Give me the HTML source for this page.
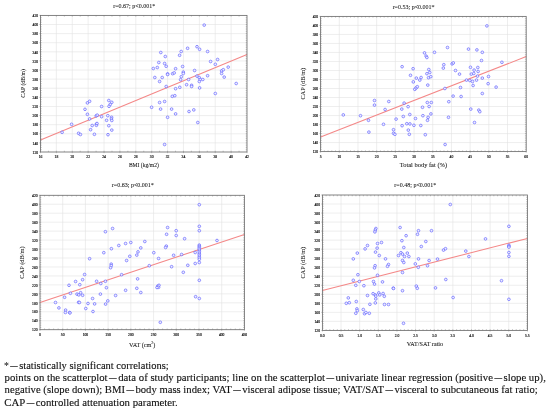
<!DOCTYPE html>
<html><head><meta charset="utf-8"><style>
html,body{margin:0;padding:0;background:#fff;width:550px;height:412px;overflow:hidden}
svg{display:block}
.g{stroke:#e2e2e2;stroke-width:0.6;fill:none}
.t{stroke:#888;stroke-width:0.45;fill:none}
.r{stroke:#f48888;stroke-width:1.05;fill:none}
.c circle{fill:#eef;stroke:#4c4cff;stroke-width:0.58}
.f{fill:none;stroke:#6e6e6e;stroke-width:0.85}
text{font-family:"Liberation Serif",serif;fill:#111}
.pl text{stroke:#222;stroke-width:0.06}
.pl .tl text{stroke:#222;stroke-width:0.16}
.tl text{font-size:3.7px;fill:#111}
.ti{font-size:6px}
.cp{font-size:10.2px;fill:#111;stroke:#111;stroke-width:0.12}
.dsh{font-size:7.2px;stroke-width:0.22}
.ast{font-size:9.5px;stroke-width:0.05}
</style></head><body>
<svg width="550" height="412" viewBox="0 0 550 412">
<rect width="550" height="412" fill="#fff"/>
<g class="pl"><path class="g" d="M56.38 15.40V152.00M72.27 15.40V152.00M88.15 15.40V152.00M104.04 15.40V152.00M119.92 15.40V152.00M135.81 15.40V152.00M151.69 15.40V152.00M167.58 15.40V152.00M183.46 15.40V152.00M199.35 15.40V152.00M215.23 15.40V152.00M231.12 15.40V152.00M40.50 142.89H247.00M40.50 133.79H247.00M40.50 124.68H247.00M40.50 115.57H247.00M40.50 106.47H247.00M40.50 97.36H247.00M40.50 88.25H247.00M40.50 79.15H247.00M40.50 70.04H247.00M40.50 60.93H247.00M40.50 51.83H247.00M40.50 42.72H247.00M40.50 33.61H247.00M40.50 24.51H247.00"/>
<path class="t" d="M48.44 15.40v1.3M48.44 152.00v-1.3M56.38 15.40v1.3M56.38 152.00v-1.3M64.33 15.40v1.3M64.33 152.00v-1.3M72.27 15.40v1.3M72.27 152.00v-1.3M80.21 15.40v1.3M80.21 152.00v-1.3M88.15 15.40v1.3M88.15 152.00v-1.3M96.10 15.40v1.3M96.10 152.00v-1.3M104.04 15.40v1.3M104.04 152.00v-1.3M111.98 15.40v1.3M111.98 152.00v-1.3M119.92 15.40v1.3M119.92 152.00v-1.3M127.87 15.40v1.3M127.87 152.00v-1.3M135.81 15.40v1.3M135.81 152.00v-1.3M143.75 15.40v1.3M143.75 152.00v-1.3M151.69 15.40v1.3M151.69 152.00v-1.3M159.63 15.40v1.3M159.63 152.00v-1.3M167.58 15.40v1.3M167.58 152.00v-1.3M175.52 15.40v1.3M175.52 152.00v-1.3M183.46 15.40v1.3M183.46 152.00v-1.3M191.40 15.40v1.3M191.40 152.00v-1.3M199.35 15.40v1.3M199.35 152.00v-1.3M207.29 15.40v1.3M207.29 152.00v-1.3M215.23 15.40v1.3M215.23 152.00v-1.3M223.17 15.40v1.3M223.17 152.00v-1.3M231.12 15.40v1.3M231.12 152.00v-1.3M239.06 15.40v1.3M239.06 152.00v-1.3M40.50 149.72h1.3M247.00 149.72h-1.3M40.50 147.45h1.3M247.00 147.45h-1.3M40.50 145.17h1.3M247.00 145.17h-1.3M40.50 142.89h1.3M247.00 142.89h-1.3M40.50 140.62h1.3M247.00 140.62h-1.3M40.50 138.34h1.3M247.00 138.34h-1.3M40.50 136.06h1.3M247.00 136.06h-1.3M40.50 133.79h1.3M247.00 133.79h-1.3M40.50 131.51h1.3M247.00 131.51h-1.3M40.50 129.23h1.3M247.00 129.23h-1.3M40.50 126.96h1.3M247.00 126.96h-1.3M40.50 124.68h1.3M247.00 124.68h-1.3M40.50 122.40h1.3M247.00 122.40h-1.3M40.50 120.13h1.3M247.00 120.13h-1.3M40.50 117.85h1.3M247.00 117.85h-1.3M40.50 115.57h1.3M247.00 115.57h-1.3M40.50 113.30h1.3M247.00 113.30h-1.3M40.50 111.02h1.3M247.00 111.02h-1.3M40.50 108.74h1.3M247.00 108.74h-1.3M40.50 106.47h1.3M247.00 106.47h-1.3M40.50 104.19h1.3M247.00 104.19h-1.3M40.50 101.91h1.3M247.00 101.91h-1.3M40.50 99.64h1.3M247.00 99.64h-1.3M40.50 97.36h1.3M247.00 97.36h-1.3M40.50 95.08h1.3M247.00 95.08h-1.3M40.50 92.81h1.3M247.00 92.81h-1.3M40.50 90.53h1.3M247.00 90.53h-1.3M40.50 88.25h1.3M247.00 88.25h-1.3M40.50 85.98h1.3M247.00 85.98h-1.3M40.50 83.70h1.3M247.00 83.70h-1.3M40.50 81.42h1.3M247.00 81.42h-1.3M40.50 79.15h1.3M247.00 79.15h-1.3M40.50 76.87h1.3M247.00 76.87h-1.3M40.50 74.59h1.3M247.00 74.59h-1.3M40.50 72.32h1.3M247.00 72.32h-1.3M40.50 70.04h1.3M247.00 70.04h-1.3M40.50 67.76h1.3M247.00 67.76h-1.3M40.50 65.49h1.3M247.00 65.49h-1.3M40.50 63.21h1.3M247.00 63.21h-1.3M40.50 60.93h1.3M247.00 60.93h-1.3M40.50 58.66h1.3M247.00 58.66h-1.3M40.50 56.38h1.3M247.00 56.38h-1.3M40.50 54.10h1.3M247.00 54.10h-1.3M40.50 51.83h1.3M247.00 51.83h-1.3M40.50 49.55h1.3M247.00 49.55h-1.3M40.50 47.27h1.3M247.00 47.27h-1.3M40.50 45.00h1.3M247.00 45.00h-1.3M40.50 42.72h1.3M247.00 42.72h-1.3M40.50 40.44h1.3M247.00 40.44h-1.3M40.50 38.17h1.3M247.00 38.17h-1.3M40.50 35.89h1.3M247.00 35.89h-1.3M40.50 33.61h1.3M247.00 33.61h-1.3M40.50 31.34h1.3M247.00 31.34h-1.3M40.50 29.06h1.3M247.00 29.06h-1.3M40.50 26.78h1.3M247.00 26.78h-1.3M40.50 24.51h1.3M247.00 24.51h-1.3M40.50 22.23h1.3M247.00 22.23h-1.3M40.50 19.95h1.3M247.00 19.95h-1.3M40.50 17.68h1.3M247.00 17.68h-1.3M40.50 152.00v1.2M56.38 152.00v1.2M72.27 152.00v1.2M88.15 152.00v1.2M104.04 152.00v1.2M119.92 152.00v1.2M135.81 152.00v1.2M151.69 152.00v1.2M167.58 152.00v1.2M183.46 152.00v1.2M199.35 152.00v1.2M215.23 152.00v1.2M231.12 152.00v1.2M247.00 152.00v1.2M40.50 152.00h-1.2M40.50 142.89h-1.2M40.50 133.79h-1.2M40.50 124.68h-1.2M40.50 115.57h-1.2M40.50 106.47h-1.2M40.50 97.36h-1.2M40.50 88.25h-1.2M40.50 79.15h-1.2M40.50 70.04h-1.2M40.50 60.93h-1.2M40.50 51.83h-1.2M40.50 42.72h-1.2M40.50 33.61h-1.2M40.50 24.51h-1.2M40.50 15.40h-1.2"/>
<path class="r" d="M40.50 140.00L247.00 54.40"/>
<g class="c"><circle cx="62.1" cy="132.3" r="1.35"/><circle cx="71.6" cy="124.3" r="1.35"/><circle cx="78.6" cy="133.3" r="1.35"/><circle cx="80.4" cy="134.5" r="1.35"/><circle cx="87.4" cy="102.9" r="1.35"/><circle cx="89.6" cy="101.3" r="1.35"/><circle cx="85.0" cy="109.3" r="1.35"/><circle cx="87.4" cy="114.3" r="1.35"/><circle cx="89.6" cy="118.9" r="1.35"/><circle cx="92.2" cy="125.5" r="1.35"/><circle cx="90.6" cy="129.7" r="1.35"/><circle cx="94.4" cy="134.3" r="1.35"/><circle cx="96.2" cy="115.9" r="1.35"/><circle cx="97.2" cy="115.1" r="1.35"/><circle cx="96.4" cy="124.1" r="1.35"/><circle cx="96.4" cy="125.3" r="1.35"/><circle cx="97.0" cy="123.5" r="1.35"/><circle cx="101.6" cy="106.5" r="1.35"/><circle cx="101.6" cy="116.7" r="1.35"/><circle cx="108.8" cy="100.5" r="1.35"/><circle cx="111.8" cy="102.3" r="1.35"/><circle cx="110.2" cy="104.5" r="1.35"/><circle cx="109.0" cy="106.3" r="1.35"/><circle cx="107.8" cy="115.7" r="1.35"/><circle cx="111.6" cy="117.3" r="1.35"/><circle cx="111.4" cy="118.9" r="1.35"/><circle cx="111.8" cy="120.5" r="1.35"/><circle cx="106.6" cy="120.3" r="1.35"/><circle cx="108.8" cy="125.7" r="1.35"/><circle cx="111.8" cy="130.1" r="1.35"/><circle cx="108.0" cy="134.7" r="1.35"/><circle cx="154.8" cy="77.5" r="1.35"/><circle cx="159.6" cy="81.5" r="1.35"/><circle cx="162.2" cy="77.5" r="1.35"/><circle cx="167.6" cy="73.9" r="1.35"/><circle cx="167.6" cy="74.5" r="1.35"/><circle cx="172.6" cy="73.7" r="1.35"/><circle cx="174.2" cy="72.9" r="1.35"/><circle cx="183.3" cy="72.1" r="1.35"/><circle cx="183.3" cy="73.5" r="1.35"/><circle cx="181.3" cy="76.7" r="1.35"/><circle cx="180.6" cy="79.7" r="1.35"/><circle cx="188.6" cy="79.5" r="1.35"/><circle cx="194.6" cy="70.5" r="1.35"/><circle cx="197.0" cy="76.1" r="1.35"/><circle cx="199.3" cy="77.7" r="1.35"/><circle cx="200.2" cy="79.5" r="1.35"/><circle cx="202.8" cy="79.5" r="1.35"/><circle cx="199.3" cy="81.5" r="1.35"/><circle cx="207.6" cy="75.7" r="1.35"/><circle cx="221.6" cy="70.9" r="1.35"/><circle cx="221.6" cy="73.5" r="1.35"/><circle cx="224.2" cy="77.1" r="1.35"/><circle cx="236.2" cy="83.5" r="1.35"/><circle cx="166.2" cy="86.5" r="1.35"/><circle cx="175.6" cy="88.7" r="1.35"/><circle cx="179.8" cy="87.3" r="1.35"/><circle cx="186.6" cy="84.7" r="1.35"/><circle cx="191.6" cy="85.3" r="1.35"/><circle cx="191.6" cy="86.5" r="1.35"/><circle cx="199.6" cy="87.9" r="1.35"/><circle cx="215.3" cy="93.5" r="1.35"/><circle cx="172.3" cy="96.3" r="1.35"/><circle cx="174.8" cy="95.7" r="1.35"/><circle cx="159.6" cy="102.5" r="1.35"/><circle cx="164.6" cy="101.5" r="1.35"/><circle cx="151.6" cy="107.3" r="1.35"/><circle cx="160.6" cy="109.1" r="1.35"/><circle cx="171.6" cy="109.1" r="1.35"/><circle cx="189.0" cy="111.5" r="1.35"/><circle cx="193.8" cy="109.9" r="1.35"/><circle cx="167.6" cy="117.3" r="1.35"/><circle cx="175.6" cy="113.9" r="1.35"/><circle cx="197.8" cy="122.5" r="1.35"/><circle cx="164.6" cy="144.5" r="1.35"/><circle cx="204.2" cy="25.1" r="1.35"/><circle cx="160.8" cy="52.5" r="1.35"/><circle cx="165.3" cy="56.5" r="1.35"/><circle cx="181.2" cy="51.5" r="1.35"/><circle cx="179.6" cy="55.3" r="1.35"/><circle cx="187.6" cy="48.3" r="1.35"/><circle cx="197.0" cy="46.7" r="1.35"/><circle cx="199.6" cy="49.3" r="1.35"/><circle cx="207.6" cy="51.5" r="1.35"/><circle cx="158.8" cy="62.5" r="1.35"/><circle cx="164.6" cy="63.5" r="1.35"/><circle cx="166.2" cy="66.3" r="1.35"/><circle cx="153.3" cy="68.5" r="1.35"/><circle cx="157.3" cy="67.5" r="1.35"/><circle cx="175.6" cy="68.7" r="1.35"/><circle cx="182.6" cy="66.5" r="1.35"/><circle cx="210.6" cy="61.5" r="1.35"/><circle cx="217.6" cy="59.5" r="1.35"/><circle cx="215.3" cy="64.3" r="1.35"/><circle cx="228.2" cy="67.1" r="1.35"/><circle cx="223.3" cy="69.7" r="1.35"/></g>
<rect class="f" x="40.50" y="15.40" width="206.50" height="136.60"/>
<g class="tl"><text x="40.50" y="158.00" text-anchor="middle">16</text><text x="56.38" y="158.00" text-anchor="middle">18</text><text x="72.27" y="158.00" text-anchor="middle">20</text><text x="88.15" y="158.00" text-anchor="middle">22</text><text x="104.04" y="158.00" text-anchor="middle">24</text><text x="119.92" y="158.00" text-anchor="middle">26</text><text x="135.81" y="158.00" text-anchor="middle">28</text><text x="151.69" y="158.00" text-anchor="middle">30</text><text x="167.58" y="158.00" text-anchor="middle">32</text><text x="183.46" y="158.00" text-anchor="middle">34</text><text x="199.35" y="158.00" text-anchor="middle">36</text><text x="215.23" y="158.00" text-anchor="middle">38</text><text x="231.12" y="158.00" text-anchor="middle">40</text><text x="247.00" y="158.00" text-anchor="middle">42</text><text x="38.10" y="153.70" text-anchor="end">120</text><text x="38.10" y="144.59" text-anchor="end">140</text><text x="38.10" y="135.49" text-anchor="end">160</text><text x="38.10" y="126.38" text-anchor="end">180</text><text x="38.10" y="117.27" text-anchor="end">200</text><text x="38.10" y="108.17" text-anchor="end">220</text><text x="38.10" y="99.06" text-anchor="end">240</text><text x="38.10" y="89.95" text-anchor="end">260</text><text x="38.10" y="80.85" text-anchor="end">280</text><text x="38.10" y="71.74" text-anchor="end">300</text><text x="38.10" y="62.63" text-anchor="end">320</text><text x="38.10" y="53.53" text-anchor="end">340</text><text x="38.10" y="44.42" text-anchor="end">360</text><text x="38.10" y="35.31" text-anchor="end">380</text><text x="38.10" y="26.21" text-anchor="end">400</text><text x="38.10" y="17.10" text-anchor="end">420</text></g>
<text class="ti" x="134.20" y="8.20" font-size="5.80" text-anchor="middle">r=0.67; p&lt;0.001*</text>
<text class="at" x="143.90" y="166.90" font-size="5.60" text-anchor="middle">BMI (kg/m2)</text>
<text class="at" transform="translate(24.90 83.50) rotate(-90)" font-size="5.70" text-anchor="middle">CAP (dB/m)</text></g>
<g class="pl"><path class="g" d="M339.29 16.40V151.60M357.98 16.40V151.60M376.67 16.40V151.60M395.36 16.40V151.60M414.05 16.40V151.60M432.75 16.40V151.60M451.44 16.40V151.60M470.13 16.40V151.60M488.82 16.40V151.60M507.51 16.40V151.60M320.60 142.59H526.20M320.60 133.57H526.20M320.60 124.56H526.20M320.60 115.55H526.20M320.60 106.53H526.20M320.60 97.52H526.20M320.60 88.51H526.20M320.60 79.49H526.20M320.60 70.48H526.20M320.60 61.47H526.20M320.60 52.45H526.20M320.60 43.44H526.20M320.60 34.43H526.20M320.60 25.41H526.20"/>
<path class="t" d="M324.34 16.40v1.3M324.34 151.60v-1.3M328.08 16.40v1.3M328.08 151.60v-1.3M331.81 16.40v1.3M331.81 151.60v-1.3M335.55 16.40v1.3M335.55 151.60v-1.3M339.29 16.40v1.3M339.29 151.60v-1.3M343.03 16.40v1.3M343.03 151.60v-1.3M346.77 16.40v1.3M346.77 151.60v-1.3M350.51 16.40v1.3M350.51 151.60v-1.3M354.24 16.40v1.3M354.24 151.60v-1.3M357.98 16.40v1.3M357.98 151.60v-1.3M361.72 16.40v1.3M361.72 151.60v-1.3M365.46 16.40v1.3M365.46 151.60v-1.3M369.20 16.40v1.3M369.20 151.60v-1.3M372.93 16.40v1.3M372.93 151.60v-1.3M376.67 16.40v1.3M376.67 151.60v-1.3M380.41 16.40v1.3M380.41 151.60v-1.3M384.15 16.40v1.3M384.15 151.60v-1.3M387.89 16.40v1.3M387.89 151.60v-1.3M391.63 16.40v1.3M391.63 151.60v-1.3M395.36 16.40v1.3M395.36 151.60v-1.3M399.10 16.40v1.3M399.10 151.60v-1.3M402.84 16.40v1.3M402.84 151.60v-1.3M406.58 16.40v1.3M406.58 151.60v-1.3M410.32 16.40v1.3M410.32 151.60v-1.3M414.05 16.40v1.3M414.05 151.60v-1.3M417.79 16.40v1.3M417.79 151.60v-1.3M421.53 16.40v1.3M421.53 151.60v-1.3M425.27 16.40v1.3M425.27 151.60v-1.3M429.01 16.40v1.3M429.01 151.60v-1.3M432.75 16.40v1.3M432.75 151.60v-1.3M436.48 16.40v1.3M436.48 151.60v-1.3M440.22 16.40v1.3M440.22 151.60v-1.3M443.96 16.40v1.3M443.96 151.60v-1.3M447.70 16.40v1.3M447.70 151.60v-1.3M451.44 16.40v1.3M451.44 151.60v-1.3M455.17 16.40v1.3M455.17 151.60v-1.3M458.91 16.40v1.3M458.91 151.60v-1.3M462.65 16.40v1.3M462.65 151.60v-1.3M466.39 16.40v1.3M466.39 151.60v-1.3M470.13 16.40v1.3M470.13 151.60v-1.3M473.87 16.40v1.3M473.87 151.60v-1.3M477.60 16.40v1.3M477.60 151.60v-1.3M481.34 16.40v1.3M481.34 151.60v-1.3M485.08 16.40v1.3M485.08 151.60v-1.3M488.82 16.40v1.3M488.82 151.60v-1.3M492.56 16.40v1.3M492.56 151.60v-1.3M496.29 16.40v1.3M496.29 151.60v-1.3M500.03 16.40v1.3M500.03 151.60v-1.3M503.77 16.40v1.3M503.77 151.60v-1.3M507.51 16.40v1.3M507.51 151.60v-1.3M511.25 16.40v1.3M511.25 151.60v-1.3M514.99 16.40v1.3M514.99 151.60v-1.3M518.72 16.40v1.3M518.72 151.60v-1.3M522.46 16.40v1.3M522.46 151.60v-1.3M320.60 149.35h1.3M526.20 149.35h-1.3M320.60 147.09h1.3M526.20 147.09h-1.3M320.60 144.84h1.3M526.20 144.84h-1.3M320.60 142.59h1.3M526.20 142.59h-1.3M320.60 140.33h1.3M526.20 140.33h-1.3M320.60 138.08h1.3M526.20 138.08h-1.3M320.60 135.83h1.3M526.20 135.83h-1.3M320.60 133.57h1.3M526.20 133.57h-1.3M320.60 131.32h1.3M526.20 131.32h-1.3M320.60 129.07h1.3M526.20 129.07h-1.3M320.60 126.81h1.3M526.20 126.81h-1.3M320.60 124.56h1.3M526.20 124.56h-1.3M320.60 122.31h1.3M526.20 122.31h-1.3M320.60 120.05h1.3M526.20 120.05h-1.3M320.60 117.80h1.3M526.20 117.80h-1.3M320.60 115.55h1.3M526.20 115.55h-1.3M320.60 113.29h1.3M526.20 113.29h-1.3M320.60 111.04h1.3M526.20 111.04h-1.3M320.60 108.79h1.3M526.20 108.79h-1.3M320.60 106.53h1.3M526.20 106.53h-1.3M320.60 104.28h1.3M526.20 104.28h-1.3M320.60 102.03h1.3M526.20 102.03h-1.3M320.60 99.77h1.3M526.20 99.77h-1.3M320.60 97.52h1.3M526.20 97.52h-1.3M320.60 95.27h1.3M526.20 95.27h-1.3M320.60 93.01h1.3M526.20 93.01h-1.3M320.60 90.76h1.3M526.20 90.76h-1.3M320.60 88.51h1.3M526.20 88.51h-1.3M320.60 86.25h1.3M526.20 86.25h-1.3M320.60 84.00h1.3M526.20 84.00h-1.3M320.60 81.75h1.3M526.20 81.75h-1.3M320.60 79.49h1.3M526.20 79.49h-1.3M320.60 77.24h1.3M526.20 77.24h-1.3M320.60 74.99h1.3M526.20 74.99h-1.3M320.60 72.73h1.3M526.20 72.73h-1.3M320.60 70.48h1.3M526.20 70.48h-1.3M320.60 68.23h1.3M526.20 68.23h-1.3M320.60 65.97h1.3M526.20 65.97h-1.3M320.60 63.72h1.3M526.20 63.72h-1.3M320.60 61.47h1.3M526.20 61.47h-1.3M320.60 59.21h1.3M526.20 59.21h-1.3M320.60 56.96h1.3M526.20 56.96h-1.3M320.60 54.71h1.3M526.20 54.71h-1.3M320.60 52.45h1.3M526.20 52.45h-1.3M320.60 50.20h1.3M526.20 50.20h-1.3M320.60 47.95h1.3M526.20 47.95h-1.3M320.60 45.69h1.3M526.20 45.69h-1.3M320.60 43.44h1.3M526.20 43.44h-1.3M320.60 41.19h1.3M526.20 41.19h-1.3M320.60 38.93h1.3M526.20 38.93h-1.3M320.60 36.68h1.3M526.20 36.68h-1.3M320.60 34.43h1.3M526.20 34.43h-1.3M320.60 32.17h1.3M526.20 32.17h-1.3M320.60 29.92h1.3M526.20 29.92h-1.3M320.60 27.67h1.3M526.20 27.67h-1.3M320.60 25.41h1.3M526.20 25.41h-1.3M320.60 23.16h1.3M526.20 23.16h-1.3M320.60 20.91h1.3M526.20 20.91h-1.3M320.60 18.65h1.3M526.20 18.65h-1.3M320.60 151.60v1.2M339.29 151.60v1.2M357.98 151.60v1.2M376.67 151.60v1.2M395.36 151.60v1.2M414.05 151.60v1.2M432.75 151.60v1.2M451.44 151.60v1.2M470.13 151.60v1.2M488.82 151.60v1.2M507.51 151.60v1.2M526.20 151.60v1.2M320.60 151.60h-1.2M320.60 142.59h-1.2M320.60 133.57h-1.2M320.60 124.56h-1.2M320.60 115.55h-1.2M320.60 106.53h-1.2M320.60 97.52h-1.2M320.60 88.51h-1.2M320.60 79.49h-1.2M320.60 70.48h-1.2M320.60 61.47h-1.2M320.60 52.45h-1.2M320.60 43.44h-1.2M320.60 34.43h-1.2M320.60 25.41h-1.2M320.60 16.40h-1.2"/>
<path class="r" d="M320.60 137.00L526.20 56.60"/>
<g class="c"><circle cx="402.1" cy="66.7" r="1.35"/><circle cx="413.1" cy="68.7" r="1.35"/><circle cx="474.1" cy="70.1" r="1.35"/><circle cx="486.9" cy="25.9" r="1.35"/><circle cx="424.5" cy="52.9" r="1.35"/><circle cx="426.1" cy="56.1" r="1.35"/><circle cx="426.9" cy="57.5" r="1.35"/><circle cx="434.5" cy="52.3" r="1.35"/><circle cx="447.5" cy="47.5" r="1.35"/><circle cx="468.5" cy="49.1" r="1.35"/><circle cx="476.9" cy="49.9" r="1.35"/><circle cx="482.3" cy="52.3" r="1.35"/><circle cx="481.5" cy="60.5" r="1.35"/><circle cx="501.9" cy="62.3" r="1.35"/><circle cx="443.8" cy="64.7" r="1.35"/><circle cx="443.3" cy="68.1" r="1.35"/><circle cx="452.1" cy="63.9" r="1.35"/><circle cx="453.3" cy="62.9" r="1.35"/><circle cx="428.8" cy="69.5" r="1.35"/><circle cx="470.5" cy="67.3" r="1.35"/><circle cx="477.8" cy="67.5" r="1.35"/><circle cx="455.5" cy="70.5" r="1.35"/><circle cx="410.5" cy="75.3" r="1.35"/><circle cx="413.3" cy="81.9" r="1.35"/><circle cx="416.3" cy="78.1" r="1.35"/><circle cx="419.8" cy="80.1" r="1.35"/><circle cx="414.8" cy="89.3" r="1.35"/><circle cx="416.1" cy="87.9" r="1.35"/><circle cx="417.3" cy="86.7" r="1.35"/><circle cx="374.5" cy="100.5" r="1.35"/><circle cx="374.5" cy="105.1" r="1.35"/><circle cx="388.8" cy="101.5" r="1.35"/><circle cx="404.1" cy="103.1" r="1.35"/><circle cx="408.1" cy="106.7" r="1.35"/><circle cx="401.8" cy="109.1" r="1.35"/><circle cx="385.1" cy="109.5" r="1.35"/><circle cx="343.3" cy="114.9" r="1.35"/><circle cx="360.5" cy="115.7" r="1.35"/><circle cx="368.5" cy="120.3" r="1.35"/><circle cx="368.9" cy="132.1" r="1.35"/><circle cx="383.5" cy="124.3" r="1.35"/><circle cx="396.1" cy="119.1" r="1.35"/><circle cx="403.3" cy="116.5" r="1.35"/><circle cx="409.8" cy="114.5" r="1.35"/><circle cx="415.5" cy="118.5" r="1.35"/><circle cx="402.1" cy="125.7" r="1.35"/><circle cx="406.8" cy="123.7" r="1.35"/><circle cx="409.9" cy="123.9" r="1.35"/><circle cx="413.9" cy="125.3" r="1.35"/><circle cx="408.3" cy="130.1" r="1.35"/><circle cx="393.5" cy="129.7" r="1.35"/><circle cx="393.5" cy="133.3" r="1.35"/><circle cx="394.9" cy="134.3" r="1.35"/><circle cx="409.3" cy="134.3" r="1.35"/><circle cx="421.1" cy="77.5" r="1.35"/><circle cx="426.9" cy="73.7" r="1.35"/><circle cx="429.8" cy="72.5" r="1.35"/><circle cx="428.5" cy="77.7" r="1.35"/><circle cx="430.8" cy="76.7" r="1.35"/><circle cx="427.8" cy="85.1" r="1.35"/><circle cx="459.5" cy="74.1" r="1.35"/><circle cx="471.3" cy="74.1" r="1.35"/><circle cx="473.8" cy="73.5" r="1.35"/><circle cx="478.1" cy="71.5" r="1.35"/><circle cx="477.5" cy="76.1" r="1.35"/><circle cx="482.3" cy="78.1" r="1.35"/><circle cx="488.5" cy="76.5" r="1.35"/><circle cx="466.5" cy="80.1" r="1.35"/><circle cx="469.8" cy="80.5" r="1.35"/><circle cx="472.5" cy="81.5" r="1.35"/><circle cx="476.5" cy="80.1" r="1.35"/><circle cx="488.1" cy="83.7" r="1.35"/><circle cx="473.1" cy="85.5" r="1.35"/><circle cx="496.1" cy="87.1" r="1.35"/><circle cx="444.9" cy="88.5" r="1.35"/><circle cx="460.5" cy="87.5" r="1.35"/><circle cx="482.3" cy="93.5" r="1.35"/><circle cx="453.1" cy="96.1" r="1.35"/><circle cx="461.1" cy="96.5" r="1.35"/><circle cx="448.8" cy="101.7" r="1.35"/><circle cx="427.3" cy="102.5" r="1.35"/><circle cx="431.3" cy="102.5" r="1.35"/><circle cx="422.5" cy="107.3" r="1.35"/><circle cx="429.1" cy="106.5" r="1.35"/><circle cx="470.8" cy="109.1" r="1.35"/><circle cx="478.8" cy="110.1" r="1.35"/><circle cx="479.8" cy="111.7" r="1.35"/><circle cx="422.9" cy="115.7" r="1.35"/><circle cx="428.1" cy="117.3" r="1.35"/><circle cx="430.9" cy="113.9" r="1.35"/><circle cx="427.5" cy="120.3" r="1.35"/><circle cx="448.5" cy="117.3" r="1.35"/><circle cx="474.5" cy="122.5" r="1.35"/><circle cx="420.8" cy="125.5" r="1.35"/><circle cx="425.3" cy="134.7" r="1.35"/><circle cx="445.1" cy="144.5" r="1.35"/></g>
<rect class="f" x="320.60" y="16.40" width="205.60" height="135.20"/>
<g class="tl"><text x="320.60" y="157.60" text-anchor="middle">5</text><text x="339.29" y="157.60" text-anchor="middle">10</text><text x="357.98" y="157.60" text-anchor="middle">15</text><text x="376.67" y="157.60" text-anchor="middle">20</text><text x="395.36" y="157.60" text-anchor="middle">25</text><text x="414.05" y="157.60" text-anchor="middle">30</text><text x="432.75" y="157.60" text-anchor="middle">35</text><text x="451.44" y="157.60" text-anchor="middle">40</text><text x="470.13" y="157.60" text-anchor="middle">45</text><text x="488.82" y="157.60" text-anchor="middle">50</text><text x="507.51" y="157.60" text-anchor="middle">55</text><text x="526.20" y="157.60" text-anchor="middle">60</text><text x="318.20" y="153.30" text-anchor="end">120</text><text x="318.20" y="144.29" text-anchor="end">140</text><text x="318.20" y="135.27" text-anchor="end">160</text><text x="318.20" y="126.26" text-anchor="end">180</text><text x="318.20" y="117.25" text-anchor="end">200</text><text x="318.20" y="108.23" text-anchor="end">220</text><text x="318.20" y="99.22" text-anchor="end">240</text><text x="318.20" y="90.21" text-anchor="end">260</text><text x="318.20" y="81.19" text-anchor="end">280</text><text x="318.20" y="72.18" text-anchor="end">300</text><text x="318.20" y="63.17" text-anchor="end">320</text><text x="318.20" y="54.15" text-anchor="end">340</text><text x="318.20" y="45.14" text-anchor="end">360</text><text x="318.20" y="36.13" text-anchor="end">380</text><text x="318.20" y="27.11" text-anchor="end">400</text><text x="318.20" y="18.10" text-anchor="end">420</text></g>
<text class="ti" x="413.60" y="8.50" font-size="6.00" text-anchor="middle">r=0.53; p&lt;0.001*</text>
<text class="at" x="423.40" y="167.20" font-size="6.45" text-anchor="middle">Total body fat (%)</text>
<text class="at" transform="translate(304.70 83.70) rotate(-90)" font-size="6.30" text-anchor="middle">CAP (dB/m)</text></g>
<g class="pl"><path class="g" d="M62.71 195.30V329.70M85.42 195.30V329.70M108.13 195.30V329.70M130.84 195.30V329.70M153.56 195.30V329.70M176.27 195.30V329.70M198.98 195.30V329.70M221.69 195.30V329.70M40.00 320.74H244.40M40.00 311.78H244.40M40.00 302.82H244.40M40.00 293.86H244.40M40.00 284.90H244.40M40.00 275.94H244.40M40.00 266.98H244.40M40.00 258.02H244.40M40.00 249.06H244.40M40.00 240.10H244.40M40.00 231.14H244.40M40.00 222.18H244.40M40.00 213.22H244.40M40.00 204.26H244.40"/>
<path class="t" d="M44.54 195.30v1.3M44.54 329.70v-1.3M49.08 195.30v1.3M49.08 329.70v-1.3M53.63 195.30v1.3M53.63 329.70v-1.3M58.17 195.30v1.3M58.17 329.70v-1.3M62.71 195.30v1.3M62.71 329.70v-1.3M67.25 195.30v1.3M67.25 329.70v-1.3M71.80 195.30v1.3M71.80 329.70v-1.3M76.34 195.30v1.3M76.34 329.70v-1.3M80.88 195.30v1.3M80.88 329.70v-1.3M85.42 195.30v1.3M85.42 329.70v-1.3M89.96 195.30v1.3M89.96 329.70v-1.3M94.51 195.30v1.3M94.51 329.70v-1.3M99.05 195.30v1.3M99.05 329.70v-1.3M103.59 195.30v1.3M103.59 329.70v-1.3M108.13 195.30v1.3M108.13 329.70v-1.3M112.68 195.30v1.3M112.68 329.70v-1.3M117.22 195.30v1.3M117.22 329.70v-1.3M121.76 195.30v1.3M121.76 329.70v-1.3M126.30 195.30v1.3M126.30 329.70v-1.3M130.84 195.30v1.3M130.84 329.70v-1.3M135.39 195.30v1.3M135.39 329.70v-1.3M139.93 195.30v1.3M139.93 329.70v-1.3M144.47 195.30v1.3M144.47 329.70v-1.3M149.01 195.30v1.3M149.01 329.70v-1.3M153.56 195.30v1.3M153.56 329.70v-1.3M158.10 195.30v1.3M158.10 329.70v-1.3M162.64 195.30v1.3M162.64 329.70v-1.3M167.18 195.30v1.3M167.18 329.70v-1.3M171.72 195.30v1.3M171.72 329.70v-1.3M176.27 195.30v1.3M176.27 329.70v-1.3M180.81 195.30v1.3M180.81 329.70v-1.3M185.35 195.30v1.3M185.35 329.70v-1.3M189.89 195.30v1.3M189.89 329.70v-1.3M194.44 195.30v1.3M194.44 329.70v-1.3M198.98 195.30v1.3M198.98 329.70v-1.3M203.52 195.30v1.3M203.52 329.70v-1.3M208.06 195.30v1.3M208.06 329.70v-1.3M212.60 195.30v1.3M212.60 329.70v-1.3M217.15 195.30v1.3M217.15 329.70v-1.3M221.69 195.30v1.3M221.69 329.70v-1.3M226.23 195.30v1.3M226.23 329.70v-1.3M230.77 195.30v1.3M230.77 329.70v-1.3M235.32 195.30v1.3M235.32 329.70v-1.3M239.86 195.30v1.3M239.86 329.70v-1.3M40.00 327.46h1.3M244.40 327.46h-1.3M40.00 325.22h1.3M244.40 325.22h-1.3M40.00 322.98h1.3M244.40 322.98h-1.3M40.00 320.74h1.3M244.40 320.74h-1.3M40.00 318.50h1.3M244.40 318.50h-1.3M40.00 316.26h1.3M244.40 316.26h-1.3M40.00 314.02h1.3M244.40 314.02h-1.3M40.00 311.78h1.3M244.40 311.78h-1.3M40.00 309.54h1.3M244.40 309.54h-1.3M40.00 307.30h1.3M244.40 307.30h-1.3M40.00 305.06h1.3M244.40 305.06h-1.3M40.00 302.82h1.3M244.40 302.82h-1.3M40.00 300.58h1.3M244.40 300.58h-1.3M40.00 298.34h1.3M244.40 298.34h-1.3M40.00 296.10h1.3M244.40 296.10h-1.3M40.00 293.86h1.3M244.40 293.86h-1.3M40.00 291.62h1.3M244.40 291.62h-1.3M40.00 289.38h1.3M244.40 289.38h-1.3M40.00 287.14h1.3M244.40 287.14h-1.3M40.00 284.90h1.3M244.40 284.90h-1.3M40.00 282.66h1.3M244.40 282.66h-1.3M40.00 280.42h1.3M244.40 280.42h-1.3M40.00 278.18h1.3M244.40 278.18h-1.3M40.00 275.94h1.3M244.40 275.94h-1.3M40.00 273.70h1.3M244.40 273.70h-1.3M40.00 271.46h1.3M244.40 271.46h-1.3M40.00 269.22h1.3M244.40 269.22h-1.3M40.00 266.98h1.3M244.40 266.98h-1.3M40.00 264.74h1.3M244.40 264.74h-1.3M40.00 262.50h1.3M244.40 262.50h-1.3M40.00 260.26h1.3M244.40 260.26h-1.3M40.00 258.02h1.3M244.40 258.02h-1.3M40.00 255.78h1.3M244.40 255.78h-1.3M40.00 253.54h1.3M244.40 253.54h-1.3M40.00 251.30h1.3M244.40 251.30h-1.3M40.00 249.06h1.3M244.40 249.06h-1.3M40.00 246.82h1.3M244.40 246.82h-1.3M40.00 244.58h1.3M244.40 244.58h-1.3M40.00 242.34h1.3M244.40 242.34h-1.3M40.00 240.10h1.3M244.40 240.10h-1.3M40.00 237.86h1.3M244.40 237.86h-1.3M40.00 235.62h1.3M244.40 235.62h-1.3M40.00 233.38h1.3M244.40 233.38h-1.3M40.00 231.14h1.3M244.40 231.14h-1.3M40.00 228.90h1.3M244.40 228.90h-1.3M40.00 226.66h1.3M244.40 226.66h-1.3M40.00 224.42h1.3M244.40 224.42h-1.3M40.00 222.18h1.3M244.40 222.18h-1.3M40.00 219.94h1.3M244.40 219.94h-1.3M40.00 217.70h1.3M244.40 217.70h-1.3M40.00 215.46h1.3M244.40 215.46h-1.3M40.00 213.22h1.3M244.40 213.22h-1.3M40.00 210.98h1.3M244.40 210.98h-1.3M40.00 208.74h1.3M244.40 208.74h-1.3M40.00 206.50h1.3M244.40 206.50h-1.3M40.00 204.26h1.3M244.40 204.26h-1.3M40.00 202.02h1.3M244.40 202.02h-1.3M40.00 199.78h1.3M244.40 199.78h-1.3M40.00 197.54h1.3M244.40 197.54h-1.3M40.00 329.70v1.2M62.71 329.70v1.2M85.42 329.70v1.2M108.13 329.70v1.2M130.84 329.70v1.2M153.56 329.70v1.2M176.27 329.70v1.2M198.98 329.70v1.2M221.69 329.70v1.2M244.40 329.70v1.2M40.00 329.70h-1.2M40.00 320.74h-1.2M40.00 311.78h-1.2M40.00 302.82h-1.2M40.00 293.86h-1.2M40.00 284.90h-1.2M40.00 275.94h-1.2M40.00 266.98h-1.2M40.00 258.02h-1.2M40.00 249.06h-1.2M40.00 240.10h-1.2M40.00 231.14h-1.2M40.00 222.18h-1.2M40.00 213.22h-1.2M40.00 204.26h-1.2M40.00 195.30h-1.2"/>
<path class="r" d="M40.00 302.60L244.40 234.40"/>
<g class="c"><circle cx="105.4" cy="231.7" r="1.35"/><circle cx="112.6" cy="228.5" r="1.35"/><circle cx="111.4" cy="248.7" r="1.35"/><circle cx="118.8" cy="245.5" r="1.35"/><circle cx="125.6" cy="243.5" r="1.35"/><circle cx="130.8" cy="242.5" r="1.35"/><circle cx="103.8" cy="252.7" r="1.35"/><circle cx="89.6" cy="258.7" r="1.35"/><circle cx="129.8" cy="256.3" r="1.35"/><circle cx="136.8" cy="255.1" r="1.35"/><circle cx="138.0" cy="251.9" r="1.35"/><circle cx="199.3" cy="204.7" r="1.35"/><circle cx="167.6" cy="227.5" r="1.35"/><circle cx="176.2" cy="230.7" r="1.35"/><circle cx="199.3" cy="226.3" r="1.35"/><circle cx="199.3" cy="230.7" r="1.35"/><circle cx="166.6" cy="234.3" r="1.35"/><circle cx="176.2" cy="235.5" r="1.35"/><circle cx="184.6" cy="238.7" r="1.35"/><circle cx="144.8" cy="241.5" r="1.35"/><circle cx="217.0" cy="240.5" r="1.35"/><circle cx="140.8" cy="247.9" r="1.35"/><circle cx="166.3" cy="246.1" r="1.35"/><circle cx="165.6" cy="247.5" r="1.35"/><circle cx="153.8" cy="252.7" r="1.35"/><circle cx="158.6" cy="258.5" r="1.35"/><circle cx="173.6" cy="255.3" r="1.35"/><circle cx="181.6" cy="254.5" r="1.35"/><circle cx="195.2" cy="252.5" r="1.35"/><circle cx="199.3" cy="245.1" r="1.35"/><circle cx="199.3" cy="246.3" r="1.35"/><circle cx="199.3" cy="247.5" r="1.35"/><circle cx="199.3" cy="248.7" r="1.35"/><circle cx="199.3" cy="250.1" r="1.35"/><circle cx="199.3" cy="251.5" r="1.35"/><circle cx="199.3" cy="253.1" r="1.35"/><circle cx="199.3" cy="254.5" r="1.35"/><circle cx="199.3" cy="256.1" r="1.35"/><circle cx="199.3" cy="257.7" r="1.35"/><circle cx="199.3" cy="259.3" r="1.35"/><circle cx="111.2" cy="264.1" r="1.35"/><circle cx="111.2" cy="265.7" r="1.35"/><circle cx="110.6" cy="267.7" r="1.35"/><circle cx="126.6" cy="260.5" r="1.35"/><circle cx="84.6" cy="274.5" r="1.35"/><circle cx="82.6" cy="279.7" r="1.35"/><circle cx="75.6" cy="281.5" r="1.35"/><circle cx="69.0" cy="285.3" r="1.35"/><circle cx="79.8" cy="284.7" r="1.35"/><circle cx="96.6" cy="281.3" r="1.35"/><circle cx="100.8" cy="283.5" r="1.35"/><circle cx="105.4" cy="281.3" r="1.35"/><circle cx="121.6" cy="274.7" r="1.35"/><circle cx="137.6" cy="278.9" r="1.35"/><circle cx="106.4" cy="287.7" r="1.35"/><circle cx="125.6" cy="290.3" r="1.35"/><circle cx="136.8" cy="288.3" r="1.35"/><circle cx="70.4" cy="293.3" r="1.35"/><circle cx="77.0" cy="294.1" r="1.35"/><circle cx="78.8" cy="294.9" r="1.35"/><circle cx="80.6" cy="292.7" r="1.35"/><circle cx="82.6" cy="295.3" r="1.35"/><circle cx="64.6" cy="297.3" r="1.35"/><circle cx="55.5" cy="302.5" r="1.35"/><circle cx="58.9" cy="307.9" r="1.35"/><circle cx="65.6" cy="310.1" r="1.35"/><circle cx="65.4" cy="312.5" r="1.35"/><circle cx="69.6" cy="312.5" r="1.35"/><circle cx="70.0" cy="312.9" r="1.35"/><circle cx="78.6" cy="302.3" r="1.35"/><circle cx="79.4" cy="302.5" r="1.35"/><circle cx="88.0" cy="303.5" r="1.35"/><circle cx="85.8" cy="308.5" r="1.35"/><circle cx="92.6" cy="298.5" r="1.35"/><circle cx="94.6" cy="303.9" r="1.35"/><circle cx="93.0" cy="311.5" r="1.35"/><circle cx="100.4" cy="294.1" r="1.35"/><circle cx="107.8" cy="300.9" r="1.35"/><circle cx="105.6" cy="304.1" r="1.35"/><circle cx="115.6" cy="295.5" r="1.35"/><circle cx="199.3" cy="262.5" r="1.35"/><circle cx="195.2" cy="263.5" r="1.35"/><circle cx="187.8" cy="265.3" r="1.35"/><circle cx="171.6" cy="266.7" r="1.35"/><circle cx="149.3" cy="265.7" r="1.35"/><circle cx="183.3" cy="272.3" r="1.35"/><circle cx="199.3" cy="280.3" r="1.35"/><circle cx="157.8" cy="286.1" r="1.35"/><circle cx="159.0" cy="285.3" r="1.35"/><circle cx="158.6" cy="287.3" r="1.35"/><circle cx="157.0" cy="287.5" r="1.35"/><circle cx="140.8" cy="292.5" r="1.35"/><circle cx="195.6" cy="296.7" r="1.35"/><circle cx="199.3" cy="298.5" r="1.35"/><circle cx="160.3" cy="322.3" r="1.35"/></g>
<rect class="f" x="40.00" y="195.30" width="204.40" height="134.40"/>
<g class="tl"><text x="40.00" y="335.70" text-anchor="middle">0</text><text x="62.71" y="335.70" text-anchor="middle">50</text><text x="85.42" y="335.70" text-anchor="middle">100</text><text x="108.13" y="335.70" text-anchor="middle">150</text><text x="130.84" y="335.70" text-anchor="middle">200</text><text x="153.56" y="335.70" text-anchor="middle">250</text><text x="176.27" y="335.70" text-anchor="middle">300</text><text x="198.98" y="335.70" text-anchor="middle">350</text><text x="221.69" y="335.70" text-anchor="middle">400</text><text x="244.40" y="335.70" text-anchor="middle">450</text><text x="37.60" y="331.40" text-anchor="end">120</text><text x="37.60" y="322.44" text-anchor="end">140</text><text x="37.60" y="313.48" text-anchor="end">160</text><text x="37.60" y="304.52" text-anchor="end">180</text><text x="37.60" y="295.56" text-anchor="end">200</text><text x="37.60" y="286.60" text-anchor="end">220</text><text x="37.60" y="277.64" text-anchor="end">240</text><text x="37.60" y="268.68" text-anchor="end">260</text><text x="37.60" y="259.72" text-anchor="end">280</text><text x="37.60" y="250.76" text-anchor="end">300</text><text x="37.60" y="241.80" text-anchor="end">320</text><text x="37.60" y="232.84" text-anchor="end">340</text><text x="37.60" y="223.88" text-anchor="end">360</text><text x="37.60" y="214.92" text-anchor="end">380</text><text x="37.60" y="205.96" text-anchor="end">400</text><text x="37.60" y="197.00" text-anchor="end">420</text></g>
<text class="ti" x="132.80" y="186.80" font-size="5.80" text-anchor="middle">r=0.63; p&lt;0.001*</text>
<text class="at" x="142.20" y="346.60" font-size="6.20" text-anchor="middle">VAT (cm<tspan dy="-2.2" font-size="4">2</tspan><tspan dy="2.2">)</tspan></text>
<text class="at" transform="translate(23.70 262.50) rotate(-90)" font-size="6.40" text-anchor="middle">CAP (dB/m)</text></g>
<g class="pl"><path class="g" d="M341.04 195.00V330.40M359.67 195.00V330.40M378.31 195.00V330.40M396.95 195.00V330.40M415.58 195.00V330.40M434.22 195.00V330.40M452.85 195.00V330.40M471.49 195.00V330.40M490.13 195.00V330.40M508.76 195.00V330.40M322.40 321.37H527.40M322.40 312.35H527.40M322.40 303.32H527.40M322.40 294.29H527.40M322.40 285.27H527.40M322.40 276.24H527.40M322.40 267.21H527.40M322.40 258.19H527.40M322.40 249.16H527.40M322.40 240.13H527.40M322.40 231.11H527.40M322.40 222.08H527.40M322.40 213.05H527.40M322.40 204.03H527.40"/>
<path class="t" d="M326.13 195.00v1.3M326.13 330.40v-1.3M329.85 195.00v1.3M329.85 330.40v-1.3M333.58 195.00v1.3M333.58 330.40v-1.3M337.31 195.00v1.3M337.31 330.40v-1.3M341.04 195.00v1.3M341.04 330.40v-1.3M344.76 195.00v1.3M344.76 330.40v-1.3M348.49 195.00v1.3M348.49 330.40v-1.3M352.22 195.00v1.3M352.22 330.40v-1.3M355.95 195.00v1.3M355.95 330.40v-1.3M359.67 195.00v1.3M359.67 330.40v-1.3M363.40 195.00v1.3M363.40 330.40v-1.3M367.13 195.00v1.3M367.13 330.40v-1.3M370.85 195.00v1.3M370.85 330.40v-1.3M374.58 195.00v1.3M374.58 330.40v-1.3M378.31 195.00v1.3M378.31 330.40v-1.3M382.04 195.00v1.3M382.04 330.40v-1.3M385.76 195.00v1.3M385.76 330.40v-1.3M389.49 195.00v1.3M389.49 330.40v-1.3M393.22 195.00v1.3M393.22 330.40v-1.3M396.95 195.00v1.3M396.95 330.40v-1.3M400.67 195.00v1.3M400.67 330.40v-1.3M404.40 195.00v1.3M404.40 330.40v-1.3M408.13 195.00v1.3M408.13 330.40v-1.3M411.85 195.00v1.3M411.85 330.40v-1.3M415.58 195.00v1.3M415.58 330.40v-1.3M419.31 195.00v1.3M419.31 330.40v-1.3M423.04 195.00v1.3M423.04 330.40v-1.3M426.76 195.00v1.3M426.76 330.40v-1.3M430.49 195.00v1.3M430.49 330.40v-1.3M434.22 195.00v1.3M434.22 330.40v-1.3M437.95 195.00v1.3M437.95 330.40v-1.3M441.67 195.00v1.3M441.67 330.40v-1.3M445.40 195.00v1.3M445.40 330.40v-1.3M449.13 195.00v1.3M449.13 330.40v-1.3M452.85 195.00v1.3M452.85 330.40v-1.3M456.58 195.00v1.3M456.58 330.40v-1.3M460.31 195.00v1.3M460.31 330.40v-1.3M464.04 195.00v1.3M464.04 330.40v-1.3M467.76 195.00v1.3M467.76 330.40v-1.3M471.49 195.00v1.3M471.49 330.40v-1.3M475.22 195.00v1.3M475.22 330.40v-1.3M478.95 195.00v1.3M478.95 330.40v-1.3M482.67 195.00v1.3M482.67 330.40v-1.3M486.40 195.00v1.3M486.40 330.40v-1.3M490.13 195.00v1.3M490.13 330.40v-1.3M493.85 195.00v1.3M493.85 330.40v-1.3M497.58 195.00v1.3M497.58 330.40v-1.3M501.31 195.00v1.3M501.31 330.40v-1.3M505.04 195.00v1.3M505.04 330.40v-1.3M508.76 195.00v1.3M508.76 330.40v-1.3M512.49 195.00v1.3M512.49 330.40v-1.3M516.22 195.00v1.3M516.22 330.40v-1.3M519.95 195.00v1.3M519.95 330.40v-1.3M523.67 195.00v1.3M523.67 330.40v-1.3M322.40 328.14h1.3M527.40 328.14h-1.3M322.40 325.89h1.3M527.40 325.89h-1.3M322.40 323.63h1.3M527.40 323.63h-1.3M322.40 321.37h1.3M527.40 321.37h-1.3M322.40 319.12h1.3M527.40 319.12h-1.3M322.40 316.86h1.3M527.40 316.86h-1.3M322.40 314.60h1.3M527.40 314.60h-1.3M322.40 312.35h1.3M527.40 312.35h-1.3M322.40 310.09h1.3M527.40 310.09h-1.3M322.40 307.83h1.3M527.40 307.83h-1.3M322.40 305.58h1.3M527.40 305.58h-1.3M322.40 303.32h1.3M527.40 303.32h-1.3M322.40 301.06h1.3M527.40 301.06h-1.3M322.40 298.81h1.3M527.40 298.81h-1.3M322.40 296.55h1.3M527.40 296.55h-1.3M322.40 294.29h1.3M527.40 294.29h-1.3M322.40 292.04h1.3M527.40 292.04h-1.3M322.40 289.78h1.3M527.40 289.78h-1.3M322.40 287.52h1.3M527.40 287.52h-1.3M322.40 285.27h1.3M527.40 285.27h-1.3M322.40 283.01h1.3M527.40 283.01h-1.3M322.40 280.75h1.3M527.40 280.75h-1.3M322.40 278.50h1.3M527.40 278.50h-1.3M322.40 276.24h1.3M527.40 276.24h-1.3M322.40 273.98h1.3M527.40 273.98h-1.3M322.40 271.73h1.3M527.40 271.73h-1.3M322.40 269.47h1.3M527.40 269.47h-1.3M322.40 267.21h1.3M527.40 267.21h-1.3M322.40 264.96h1.3M527.40 264.96h-1.3M322.40 262.70h1.3M527.40 262.70h-1.3M322.40 260.44h1.3M527.40 260.44h-1.3M322.40 258.19h1.3M527.40 258.19h-1.3M322.40 255.93h1.3M527.40 255.93h-1.3M322.40 253.67h1.3M527.40 253.67h-1.3M322.40 251.42h1.3M527.40 251.42h-1.3M322.40 249.16h1.3M527.40 249.16h-1.3M322.40 246.90h1.3M527.40 246.90h-1.3M322.40 244.65h1.3M527.40 244.65h-1.3M322.40 242.39h1.3M527.40 242.39h-1.3M322.40 240.13h1.3M527.40 240.13h-1.3M322.40 237.88h1.3M527.40 237.88h-1.3M322.40 235.62h1.3M527.40 235.62h-1.3M322.40 233.36h1.3M527.40 233.36h-1.3M322.40 231.11h1.3M527.40 231.11h-1.3M322.40 228.85h1.3M527.40 228.85h-1.3M322.40 226.59h1.3M527.40 226.59h-1.3M322.40 224.34h1.3M527.40 224.34h-1.3M322.40 222.08h1.3M527.40 222.08h-1.3M322.40 219.82h1.3M527.40 219.82h-1.3M322.40 217.57h1.3M527.40 217.57h-1.3M322.40 215.31h1.3M527.40 215.31h-1.3M322.40 213.05h1.3M527.40 213.05h-1.3M322.40 210.80h1.3M527.40 210.80h-1.3M322.40 208.54h1.3M527.40 208.54h-1.3M322.40 206.28h1.3M527.40 206.28h-1.3M322.40 204.03h1.3M527.40 204.03h-1.3M322.40 201.77h1.3M527.40 201.77h-1.3M322.40 199.51h1.3M527.40 199.51h-1.3M322.40 197.26h1.3M527.40 197.26h-1.3M322.40 330.40v1.2M341.04 330.40v1.2M359.67 330.40v1.2M378.31 330.40v1.2M396.95 330.40v1.2M415.58 330.40v1.2M434.22 330.40v1.2M452.85 330.40v1.2M471.49 330.40v1.2M490.13 330.40v1.2M508.76 330.40v1.2M527.40 330.40v1.2M322.40 330.40h-1.2M322.40 321.37h-1.2M322.40 312.35h-1.2M322.40 303.32h-1.2M322.40 294.29h-1.2M322.40 285.27h-1.2M322.40 276.24h-1.2M322.40 267.21h-1.2M322.40 258.19h-1.2M322.40 249.16h-1.2M322.40 240.13h-1.2M322.40 231.11h-1.2M322.40 222.08h-1.2M322.40 213.05h-1.2M322.40 204.03h-1.2M322.40 195.00h-1.2"/>
<path class="r" d="M322.40 290.60L527.40 238.40"/>
<g class="c"><circle cx="375.9" cy="228.5" r="1.35"/><circle cx="375.3" cy="230.1" r="1.35"/><circle cx="374.9" cy="231.9" r="1.35"/><circle cx="400.1" cy="227.5" r="1.35"/><circle cx="418.5" cy="230.7" r="1.35"/><circle cx="417.5" cy="234.3" r="1.35"/><circle cx="406.1" cy="235.7" r="1.35"/><circle cx="401.9" cy="240.7" r="1.35"/><circle cx="377.5" cy="243.5" r="1.35"/><circle cx="381.5" cy="242.5" r="1.35"/><circle cx="367.5" cy="245.5" r="1.35"/><circle cx="365.1" cy="248.9" r="1.35"/><circle cx="377.1" cy="248.1" r="1.35"/><circle cx="403.8" cy="247.5" r="1.35"/><circle cx="357.3" cy="253.1" r="1.35"/><circle cx="375.5" cy="252.1" r="1.35"/><circle cx="379.3" cy="255.5" r="1.35"/><circle cx="353.3" cy="258.9" r="1.35"/><circle cx="385.5" cy="258.9" r="1.35"/><circle cx="398.5" cy="255.5" r="1.35"/><circle cx="400.9" cy="252.7" r="1.35"/><circle cx="402.5" cy="254.1" r="1.35"/><circle cx="404.5" cy="256.5" r="1.35"/><circle cx="407.3" cy="253.1" r="1.35"/><circle cx="408.9" cy="256.5" r="1.35"/><circle cx="418.5" cy="258.9" r="1.35"/><circle cx="450.3" cy="204.5" r="1.35"/><circle cx="431.5" cy="230.7" r="1.35"/><circle cx="425.8" cy="241.5" r="1.35"/><circle cx="421.3" cy="246.5" r="1.35"/><circle cx="443.5" cy="250.1" r="1.35"/><circle cx="445.5" cy="248.7" r="1.35"/><circle cx="437.5" cy="259.1" r="1.35"/><circle cx="465.8" cy="251.1" r="1.35"/><circle cx="468.9" cy="256.5" r="1.35"/><circle cx="485.5" cy="238.9" r="1.35"/><circle cx="508.9" cy="226.3" r="1.35"/><circle cx="508.9" cy="245.3" r="1.35"/><circle cx="508.9" cy="246.3" r="1.35"/><circle cx="508.9" cy="247.1" r="1.35"/><circle cx="508.9" cy="252.5" r="1.35"/><circle cx="508.9" cy="256.3" r="1.35"/><circle cx="402.5" cy="260.5" r="1.35"/><circle cx="403.8" cy="262.5" r="1.35"/><circle cx="415.3" cy="263.9" r="1.35"/><circle cx="418.3" cy="267.3" r="1.35"/><circle cx="388.5" cy="264.5" r="1.35"/><circle cx="387.5" cy="266.3" r="1.35"/><circle cx="375.1" cy="265.7" r="1.35"/><circle cx="374.5" cy="267.9" r="1.35"/><circle cx="402.5" cy="272.5" r="1.35"/><circle cx="377.5" cy="275.3" r="1.35"/><circle cx="357.9" cy="274.7" r="1.35"/><circle cx="353.3" cy="280.3" r="1.35"/><circle cx="359.3" cy="281.5" r="1.35"/><circle cx="355.8" cy="285.3" r="1.35"/><circle cx="363.9" cy="285.7" r="1.35"/><circle cx="373.5" cy="281.5" r="1.35"/><circle cx="374.5" cy="284.1" r="1.35"/><circle cx="382.5" cy="281.9" r="1.35"/><circle cx="393.3" cy="288.1" r="1.35"/><circle cx="393.5" cy="288.5" r="1.35"/><circle cx="402.5" cy="290.7" r="1.35"/><circle cx="416.3" cy="286.1" r="1.35"/><circle cx="417.3" cy="288.3" r="1.35"/><circle cx="348.3" cy="297.9" r="1.35"/><circle cx="346.3" cy="303.3" r="1.35"/><circle cx="349.3" cy="302.7" r="1.35"/><circle cx="356.3" cy="301.5" r="1.35"/><circle cx="367.5" cy="295.5" r="1.35"/><circle cx="373.1" cy="293.7" r="1.35"/><circle cx="375.3" cy="294.9" r="1.35"/><circle cx="375.8" cy="296.1" r="1.35"/><circle cx="378.8" cy="292.9" r="1.35"/><circle cx="379.8" cy="294.9" r="1.35"/><circle cx="383.1" cy="293.5" r="1.35"/><circle cx="384.3" cy="296.3" r="1.35"/><circle cx="375.8" cy="298.9" r="1.35"/><circle cx="375.3" cy="302.9" r="1.35"/><circle cx="369.9" cy="304.3" r="1.35"/><circle cx="384.5" cy="304.5" r="1.35"/><circle cx="388.5" cy="304.5" r="1.35"/><circle cx="356.9" cy="308.9" r="1.35"/><circle cx="357.3" cy="310.7" r="1.35"/><circle cx="355.8" cy="313.3" r="1.35"/><circle cx="363.3" cy="309.5" r="1.35"/><circle cx="364.5" cy="313.7" r="1.35"/><circle cx="365.9" cy="312.5" r="1.35"/><circle cx="369.3" cy="313.3" r="1.35"/><circle cx="403.5" cy="323.3" r="1.35"/><circle cx="429.1" cy="260.5" r="1.35"/><circle cx="427.5" cy="265.7" r="1.35"/><circle cx="445.8" cy="279.5" r="1.35"/><circle cx="435.5" cy="287.9" r="1.35"/><circle cx="453.1" cy="297.5" r="1.35"/><circle cx="501.5" cy="280.7" r="1.35"/><circle cx="508.9" cy="299.3" r="1.35"/></g>
<rect class="f" x="322.40" y="195.00" width="205.00" height="135.40"/>
<g class="tl"><text x="322.40" y="337.00" text-anchor="middle">0.0</text><text x="341.04" y="337.00" text-anchor="middle">0.5</text><text x="359.67" y="337.00" text-anchor="middle">1.0</text><text x="378.31" y="337.00" text-anchor="middle">1.5</text><text x="396.95" y="337.00" text-anchor="middle">2.0</text><text x="415.58" y="337.00" text-anchor="middle">2.5</text><text x="434.22" y="337.00" text-anchor="middle">3.0</text><text x="452.85" y="337.00" text-anchor="middle">3.5</text><text x="471.49" y="337.00" text-anchor="middle">4.0</text><text x="490.13" y="337.00" text-anchor="middle">4.5</text><text x="508.76" y="337.00" text-anchor="middle">5.0</text><text x="527.40" y="337.00" text-anchor="middle">5.5</text><text x="320.00" y="332.10" text-anchor="end">120</text><text x="320.00" y="323.07" text-anchor="end">140</text><text x="320.00" y="314.05" text-anchor="end">160</text><text x="320.00" y="305.02" text-anchor="end">180</text><text x="320.00" y="295.99" text-anchor="end">200</text><text x="320.00" y="286.97" text-anchor="end">220</text><text x="320.00" y="277.94" text-anchor="end">240</text><text x="320.00" y="268.91" text-anchor="end">260</text><text x="320.00" y="259.89" text-anchor="end">280</text><text x="320.00" y="250.86" text-anchor="end">300</text><text x="320.00" y="241.83" text-anchor="end">320</text><text x="320.00" y="232.81" text-anchor="end">340</text><text x="320.00" y="223.78" text-anchor="end">360</text><text x="320.00" y="214.75" text-anchor="end">380</text><text x="320.00" y="205.73" text-anchor="end">400</text><text x="320.00" y="196.70" text-anchor="end">420</text></g>
<text class="ti" x="415.30" y="186.50" font-size="5.85" text-anchor="middle">r=0.48; p&lt;0.001*</text>
<text class="at" x="424.90" y="345.90" font-size="6.15" text-anchor="middle">VAT/SAT ratio</text>
<text class="at" transform="translate(305.30 262.70) rotate(-90)" font-size="6.30" text-anchor="middle">CAP (dB/m)</text></g>
<text class="cp" x="4.00" y="368.50" textLength="164.70" lengthAdjust="spacingAndGlyphs"><tspan class="ast">*</tspan><tspan class="dsh" dx="1.4" dy="-1.0">—</tspan><tspan dx="1.4" dy="1.0">statistically significant correlations;</tspan></text>
<text class="cp" x="4.60" y="381.10" textLength="541.30" lengthAdjust="spacingAndGlyphs">points on the scatterplot<tspan class="dsh" dx="1.4" dy="-1.0">—</tspan><tspan dx="1.4" dy="1.0">data of study participants; line on the scatterplot</tspan><tspan class="dsh" dx="1.4" dy="-1.0">—</tspan><tspan dx="1.4" dy="1.0">univariate linear regression (positive</tspan><tspan class="dsh" dx="1.4" dy="-1.0">—</tspan><tspan dx="1.4" dy="1.0">slope up),</tspan></text>
<text class="cp" x="4.60" y="393.20" textLength="533.10" lengthAdjust="spacingAndGlyphs">negative (slope down); BMI<tspan class="dsh" dx="1.4" dy="-1.0">—</tspan><tspan dx="1.4" dy="1.0">body mass index; VAT</tspan><tspan class="dsh" dx="1.4" dy="-1.0">—</tspan><tspan dx="1.4" dy="1.0">visceral adipose tissue; VAT/SAT</tspan><tspan class="dsh" dx="1.4" dy="-1.0">—</tspan><tspan dx="1.4" dy="1.0">visceral to subcutaneous fat ratio;</tspan></text>
<text class="cp" x="4.30" y="405.90" textLength="173.50" lengthAdjust="spacingAndGlyphs">CAP<tspan class="dsh" dx="1.4" dy="-1.0">—</tspan><tspan dx="1.4" dy="1.0">controlled attenuation parameter.</tspan></text>
</svg>
</body></html>
